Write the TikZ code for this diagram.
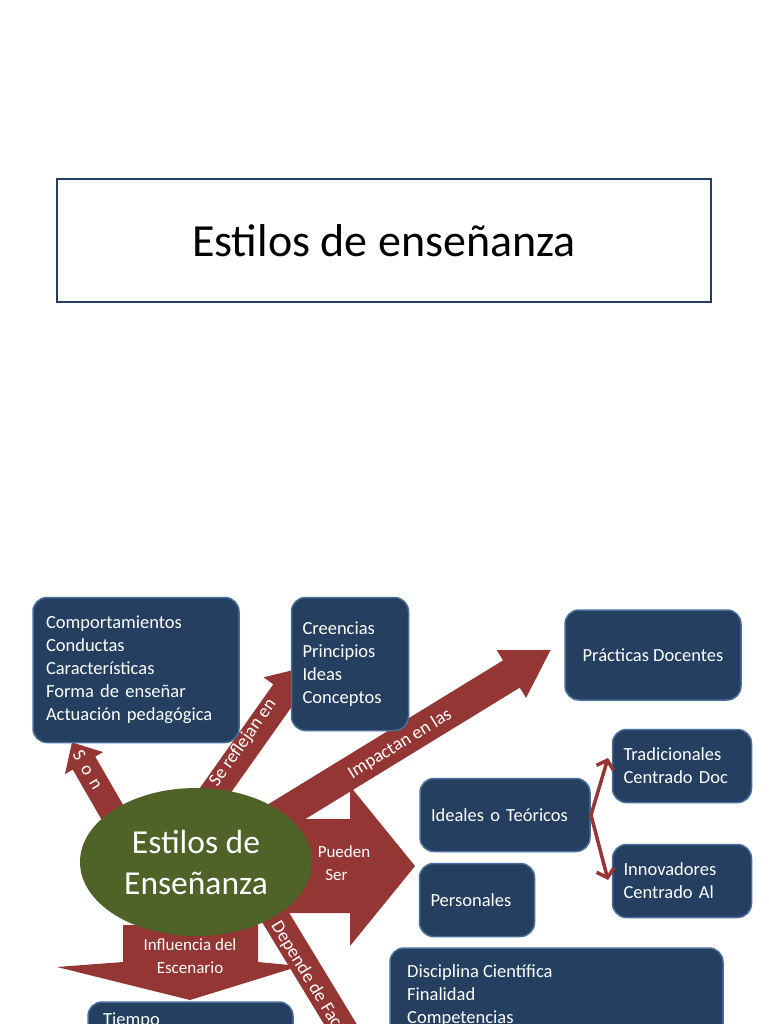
\documentclass[tikz,border=0pt]{standalone}
\usepackage{fontspec}
\setmainfont{Carlito}
\usetikzlibrary{arrows.meta,shapes.geometric}
\definecolor{boxblue}{HTML}{243F60}
\definecolor{boxedge}{HTML}{4A6E9C}
\definecolor{arrowred}{HTML}{943634}
\definecolor{ellgreen}{HTML}{4F6228}
\newcommand\redarrow[7]{\begin{scope}[shift={(#1,#2)},rotate=#3]\fill[arrowred] (0,-#5)--(#4-#7,-#5)--(#4-#7,-#6)--(#4,0)--(#4-#7,#6)--(#4-#7,#5)--(0,#5)--cycle;\end{scope}}
\tikzset{
  box/.style={draw=boxedge, fill=boxblue, line width=1.5pt, rounded corners=14pt, text=white, font=\fontsize{18.5}{23}\selectfont, align=left},
  lbl/.style={text=white, font=\fontsize{18.5}{23}\selectfont, align=center, inner sep=0}
}
\begin{document}
\begin{tikzpicture}[x=1pt,y=-1pt]
\useasboundingbox (0,0) rectangle (768,1024);
\clip (0,0) rectangle (768,1024);
\fill[white] (0,0) rectangle (768,1024);
% title
\node[draw=boxblue, line width=1.2pt, minimum width=654pt, minimum height=123pt, font=\fontsize{46}{48}\selectfont] (title) at (384,240.5) {Estilos de enseñanza};
% arrows
\redarrow{118}{822}{120}{92}{13}{22}{24}
\redarrow{205}{805}{54.7}{168}{14}{26}{30}
\redarrow{265}{825}{31.5}{335}{16}{28}{46}
\redarrow{270}{866}{0}{145}{47}{80}{65}
\fill[arrowred] (123,925)--(258,925)--(258,962)--(300,966)--(190,1000)--(57,967)--(123,962)--cycle;
\draw[arrowred, line width=28pt] (265,900)--(350,1040);
% ellipse
\node[ellipse, fill=ellgreen, minimum width=232pt, minimum height=148pt, text=white, font=\fontsize{33.5}{41}\selectfont, align=center] (estilos) at (196,862) {Estilos de\\Enseñanza};
% arrow labels
\node[lbl, rotate=-60] (son) at (88,770) {S\, o\, n};
\node[lbl, rotate=54.7] (refl) at (243,743) {Se reflejan en};
\node[lbl, rotate=31.5] (imp) at (400,744) {Impactan en las};
\node[lbl, align=left, font=\fontsize{17}{23}\selectfont] (pued) at (344,863) {Pueden\\\ \ Ser};
\node[lbl, font=\fontsize{17}{23}\selectfont] (infl) at (190,956) {Influencia del\\Escenario};
\node[lbl, rotate=-58.8, anchor=west] (dep) at (275,923) {Depende de Factores};
% boxes
\node[box, minimum width=206pt, minimum height=145pt, text width=180pt] (b1) at (136,670) {Comportamientos\\Conductas\\Características\\Forma de enseñar\\Actuación pedagógica};
\node[box, minimum width=117pt, minimum height=133pt, text width=95pt] (b2) at (350,664) {Creencias\\Principios\\Ideas\\Conceptos};
\node[box, minimum width=176pt, minimum height=90pt, align=center] (b3) at (653,655) {Prácticas Docentes};
\node[box, minimum width=170pt, minimum height=73pt, text width=148pt] (ideal) at (505,815) {Ideales o Teóricos};
\node[box, minimum width=115pt, minimum height=73pt, text width=93pt] (pers) at (477,900) {Personales};
\node[box, minimum width=139pt, minimum height=73pt, text width=117pt] (trad) at (682,766) {Tradicionales\\Centrado Doc};
\node[box, minimum width=139pt, minimum height=73pt, text width=117pt] (inno) at (682,881) {Innovadores\\Centrado Al};
\draw[box] (390,948) rectangle (723,1090);
\node[lbl, align=left, anchor=north west] (disc) at (407,964) {Disciplina Científica\\Finalidad\\Competencias};
\draw[box] (88,1002) rectangle (293,1090);
\node[lbl, align=left, anchor=north west] (tiempo) at (103,1013) {Tiempo};
% double arrow
\coordinate (fork) at (591,815);
\draw[arrowred, line width=3.5pt, -{Straight Barb[length=8pt,width=18pt]}] (fork) -- (608,758);
\draw[arrowred, line width=3.5pt, -{Straight Barb[length=8pt,width=18pt]}] (fork) -- (608,880);
\end{tikzpicture}
\end{document}
